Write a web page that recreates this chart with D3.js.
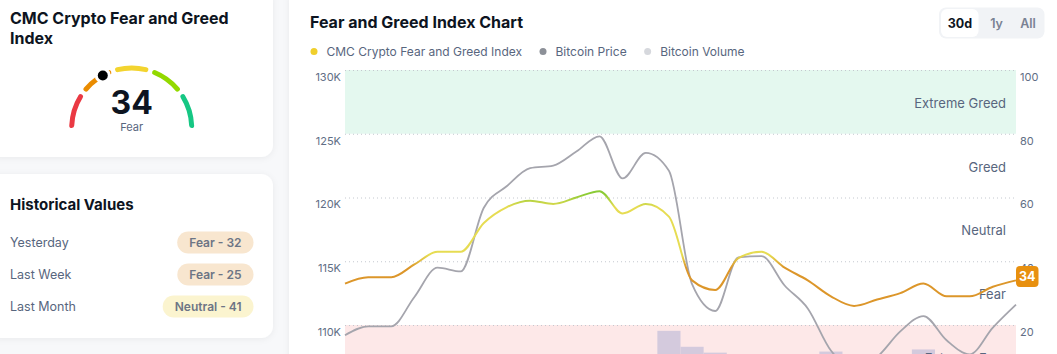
<!DOCTYPE html>
<html>
<head>
<meta charset="utf-8">
<script src="https://cdn.jsdelivr.net/npm/d3@7"></script>
<style>
  body { margin: 0; background: #f7f8fa; overflow: hidden; }
  svg { display: block; font-family: Inter, "Noto Sans", sans-serif; }
</style>
</head>
<body>
<div id="chart"></div>
<script>
// data (30 days)
let fgIndex = [33,35,35,39,43,43,52,57,59,58,60,62,55,58,54,34,31,41,43,38,34,29,26,28,30,33,29,29,32,34];
let btcPrice = [109.2,109.9,109.9,112.2,114.5,114.2,119.2,120.9,122.3,122.5,123.6,124.8,121.5,123.5,122.1,113.2,111.1,115.3,115.4,113.1,111.3,108.0,106.6,107.5,109.5,110.7,108.8,107.7,109.8,111.6]; // K USD
let btcVolume = [28,22,18,30,32,26,31,30,27,22,25,31,30,28,54.5,39.5,34,30,25,22,28,35,31,20,26,37,29,27,25,30]; // B USD
let priceTicks = [110, 115, 120, 125, 130];
let indexTicks = [20, 40, 60, 80, 100];
let bandEdges = [0, 20, 40, 60, 80, 100];
let bandLabels = ['Extreme Fear', 'Fear', 'Neutral', 'Greed', 'Extreme Greed'];
let bandFills = ['#fde8e8', 'none', 'none', 'none', '#e4f8ef'];
let legendLabels = ['CMC Crypto Fear and Greed Index', 'Bitcoin Price', 'Bitcoin Volume'];
let legendColors = ['#f0cf2c', '#8c9098', '#d6d8dd'];
let rangeButtons = ['30d', '1y', 'All'];
let currentValue = 34, currentLabel = 'Fear';
let histLabels = ['Yesterday', 'Last Week', 'Last Month'];
let histValues = [32, 25, 41];
let histNames = ['Fear', 'Fear', 'Neutral'];
let histFills = ['#f8e6cf', '#f8e6cf', '#fbf4cf'];
let gaugeColors = ['#ea3943', '#ea8c00', '#f3d42f', '#93d900', '#16c784'];

let W = 1057, H = 354;
let marge = {left: 345, right: 1016, top: 70, bottom: 388.75};
let svg = d3.select('#chart').append('svg').attr('width', W).attr('height', H);

let defs = svg.append('defs');
let shadow = defs.append('filter').attr('id', 'shadow').attr('x', '-10%').attr('y', '-10%').attr('width', '120%').attr('height', '120%');
shadow.append('feDropShadow').attr('dx', 0).attr('dy', 1).attr('stdDeviation', 3).attr('flood-color', '#000').attr('flood-opacity', 0.06);

// cards
svg.append('rect').attr('x', -12).attr('y', -12).attr('width', 285).attr('height', 169).attr('rx', 12).attr('fill', '#fff').attr('filter', 'url(#shadow)');
svg.append('rect').attr('x', -12).attr('y', 174).attr('width', 285).attr('height', 164).attr('rx', 12).attr('fill', '#fff').attr('filter', 'url(#shadow)');
svg.append('rect').attr('x', 289).attr('y', -12).attr('width', 800).attr('height', 420).attr('rx', 12).attr('fill', '#fff').attr('filter', 'url(#shadow)');

// ---- gauge card
let t1 = svg.append('text').attr('x', 10).attr('font-size', '16px').attr('font-weight', 700).attr('fill', '#0d1421');
t1.append('tspan').attr('x', 10).attr('y', 23.5).text('CMC Crypto Fear and Greed');
t1.append('tspan').attr('x', 10).attr('y', 43.5).text('Index');

let gauge = svg.append('g').attr('transform', 'translate(131.7,128)');
let gArc = d3.arc().innerRadius(57.5).outerRadius(62.5).cornerRadius(2.5);
let gAngle = d3.scaleLinear().domain([0, 100]).range([-Math.PI / 2, Math.PI / 2]);
gaugeColors.forEach(function (c, i) {
    let a0 = gAngle(i * 20) + (i === 0 ? 0 : 0.035);
    let a1 = gAngle((i + 1) * 20) - (i === 4 ? 0 : 0.035);
    gauge.append('path').attr('d', gArc({startAngle: a0, endAngle: a1})).attr('fill', c);
});
let da = gAngle(currentValue);
gauge.append('circle').attr('cx', 60 * Math.sin(da)).attr('cy', -60 * Math.cos(da)).attr('r', 8).attr('fill', '#fff');
gauge.append('circle').attr('cx', 60 * Math.sin(da)).attr('cy', -60 * Math.cos(da)).attr('r', 5).attr('fill', '#000');
gauge.append('text').attr('y', -14.5).attr('text-anchor', 'middle').attr('font-size', '32px').attr('font-weight', 700).attr('fill', '#0d1421').text(currentValue);
gauge.append('text').attr('y', 2.5).attr('text-anchor', 'middle').attr('font-size', '11px').attr('fill', '#58667e').text(currentLabel);

// ---- historical values card
svg.append('text').attr('x', 10).attr('y', 209.5).attr('font-size', '15px').attr('font-weight', 700).attr('fill', '#0d1421').text('Historical Values');
histLabels.forEach(function (lab, i) {
    let cy = 242.5 + i * 32;
    svg.append('text').attr('x', 10).attr('y', cy + 4.5).attr('font-size', '12.5px').attr('fill', '#58667e').text(lab);
    let pill = svg.append('g');
    let txt = pill.append('text').attr('y', cy + 4.3).attr('text-anchor', 'middle').attr('font-size', '12px').attr('font-weight', 600).attr('fill', '#6d7585')
        .text(histNames[i] + ' - ' + histValues[i]);
    let tw = txt.node().getComputedTextLength();
    let pw = tw + 24;
    pill.insert('rect', 'text').attr('x', 253.5 - pw).attr('y', cy - 11).attr('width', pw).attr('height', 22).attr('rx', 11).attr('fill', histFills[i]);
    txt.attr('x', 253.5 - pw / 2);
});

// ---- main chart card
svg.append('text').attr('x', 310).attr('y', 28.3).attr('font-size', '16px').attr('font-weight', 700).attr('fill', '#0d1421').text('Fear and Greed Index Chart');

let lx = 314;
legendLabels.forEach(function (lab, i) {
    svg.append('circle').attr('cx', lx).attr('cy', 51.5).attr('r', 3.5).attr('fill', legendColors[i]);
    let t = svg.append('text').attr('x', lx + 12.5).attr('y', 55.7).attr('font-size', '12px').attr('fill', '#58667e').text(lab);
    lx += 12.5 + t.node().getComputedTextLength() + 21;
});

// range buttons
svg.append('rect').attr('x', 939).attr('y', 7.5).attr('width', 105.5).attr('height', 31).attr('rx', 7).attr('fill', '#f1f3f6');
svg.append('rect').attr('x', 941).attr('y', 9).attr('width', 37.5).attr('height', 28).attr('rx', 6).attr('fill', '#fff');
let bx = [960, 996.5, 1028];
rangeButtons.forEach(function (b, i) {
    svg.append('text').attr('x', bx[i]).attr('y', 27.5).attr('text-anchor', 'middle').attr('font-size', '12.5px')
        .attr('font-weight', i === 0 ? 700 : 600).attr('fill', i === 0 ? '#0d1421' : '#7a8293').text(b);
});

// scales
let days = btcPrice.map(function (d, i) { return i; });
let xScale = d3.scalePoint().domain(days).range([marge.left, marge.right]);
let step = xScale.step();
let yPrice = d3.scaleLinear().domain([105, 130]).range([marge.bottom, marge.top]);
let yIndex = d3.scaleLinear().domain([0, 100]).range([marge.bottom, marge.top]);
let yVol = d3.scaleLinear().domain([0, 300]).range([marge.bottom, marge.top]);

let plot = svg.append('g');

// bands
bandLabels.forEach(function (lab, i) {
    if (bandFills[i] !== 'none') {
        plot.append('rect').attr('x', marge.left).attr('width', marge.right - marge.left)
            .attr('y', yIndex(bandEdges[i + 1])).attr('height', yIndex(bandEdges[i]) - yIndex(bandEdges[i + 1]))
            .attr('fill', bandFills[i]);
    }
});

// volume bars
plot.selectAll('.vol').data(btcVolume).enter().append('rect').attr('class', 'vol')
    .attr('x', function (d, i) { return xScale(i) - step / 2; })
    .attr('width', step)
    .attr('y', function (d) { return yVol(d); })
    .attr('height', function (d) { return marge.bottom - yVol(d); })
    .attr('fill', '#d4cadd');

// grid lines
plot.selectAll('.grid').data(indexTicks).enter().append('line')
    .attr('x1', marge.left).attr('x2', marge.right)
    .attr('y1', function (d) { return yIndex(d) + 0.5; }).attr('y2', function (d) { return yIndex(d) + 0.5; })
    .attr('stroke', '#c4c8cf').attr('stroke-width', 1).attr('stroke-dasharray', '1 3');

// band labels
bandLabels.forEach(function (lab, i) {
    plot.append('text').attr('x', 1006).attr('y', (yIndex(bandEdges[i]) + yIndex(bandEdges[i + 1])) / 2 + 1.5)
        .attr('dy', '0.35em').attr('text-anchor', 'end').attr('font-size', '13px').attr('fill', '#58667e').text(lab);
});

// left axis (price)
let yAxisL = d3.axisLeft(yPrice).tickValues(priceTicks).tickSize(0).tickPadding(0)
    .tickFormat(function (d) { return d + 'K'; });
let gl = svg.append('g').attr('transform', 'translate(341,0)').call(yAxisL);
gl.select('.domain').remove();
gl.selectAll('text').attr('font-size', '11px').attr('fill', '#616e85').attr('font-family', 'Inter, sans-serif').attr('dy', '0.95em');

// right axis (index)
let yAxisR = d3.axisRight(yIndex).tickValues(indexTicks).tickSize(0).tickPadding(0);
let gr = svg.append('g').attr('transform', 'translate(1020,0)').call(yAxisR);
gr.select('.domain').remove();
gr.selectAll('text').attr('font-size', '11px').attr('fill', '#616e85').attr('font-family', 'Inter, sans-serif').attr('dy', '0.95em');

// lines
let priceLine = d3.line().x(function (d, i) { return xScale(i); }).y(function (d) { return yPrice(d); }).curve(d3.curveMonotoneX);
plot.append('path').datum(btcPrice).attr('d', priceLine).attr('fill', 'none').attr('stroke', '#a5a5ad').attr('stroke-width', 1.8);

let grad = defs.append('linearGradient').attr('id', 'fgGrad').attr('gradientUnits', 'userSpaceOnUse')
    .attr('x1', 0).attr('x2', 0).attr('y1', yIndex(0)).attr('y2', yIndex(100));
[[0, '#e03b3b'], [18, '#e03b3b'], [22, '#dc962a'], [38, '#dc962a'], [42, '#e6dc52'], [57, '#e6dc52'], [61, '#8ccb35'], [100, '#2bc27a']].forEach(function (s) {
    grad.append('stop').attr('offset', s[0] + '%').attr('stop-color', s[1]);
});
let fgLine = d3.line().x(function (d, i) { return xScale(i); }).y(function (d) { return yIndex(d); }).curve(d3.curveMonotoneX);
plot.append('path').datum(fgIndex).attr('d', fgLine).attr('fill', 'none').attr('stroke', 'url(#fgGrad)').attr('stroke-width', 2);

// current value badge
let last = fgIndex[fgIndex.length - 1];
let badge = svg.append('g').attr('transform', 'translate(' + marge.right + ',' + (yIndex(last) - 4) + ')');
badge.append('rect').attr('x', 0).attr('y', -10.5).attr('width', 22.5).attr('height', 21).attr('rx', 4).attr('fill', '#e8900f');
badge.append('text').attr('x', 11.2).attr('y', 4.5).attr('text-anchor', 'middle').attr('font-size', '12.5px').attr('font-weight', 700).attr('fill', '#fff').text(last);
</script>
</body>
</html>
